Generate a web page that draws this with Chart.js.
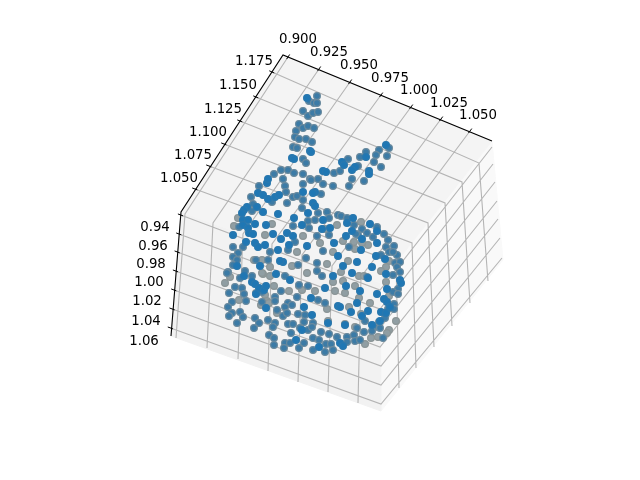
<!DOCTYPE html>
<html><head><meta charset="utf-8">
<style>html,body{margin:0;padding:0;background:#fff}canvas{display:block}</style>
<script src="https://cdn.jsdelivr.net/npm/chart.js@4/dist/chart.umd.min.js"></script>
</head><body><canvas id="c" width="640" height="480"></canvas>
<script>
const xTickLabels=["0.900","0.925","0.950","0.975","1.000","1.025","1.050"];
const yTickLabels=["1.050","1.075","1.100","1.125","1.150","1.175"];
const zTickLabels=["0.94","0.96","0.98","1.00","1.02","1.04","1.06"];
const xLabelAt=[[298,40],[329,53],[359,66],[390,79],[419,91],[449,104],[478,116]];
const yLabelAt=[[179,179],[193,156],[208,133],[223,110],[238,86],[254,62]];
const zLabelAt=[[155,228],[153,247],[151,265],[149,283],[147,302],[146,322],[144,342]];
const paneTop=[[181,212],[283,55],[492,141],[380,283]];
const paneLeft=[[181,212],[380,283],[381,411],[171,336]];
const paneRight=[[380,283],[492,141],[503,260],[381,411]];
const xGridAxis=[[288,57],[319,69],[350,82],[381,95],[411,107],[441,119],[470,131]];
const xGridMid=[[185,214],[213,223],[243,234],[272,244],[302,255],[332,266],[361,277]];
const xGridEnd=[[176,338],[207,348],[238,359],[268,371],[298,382],[328,392],[358,403]];
const yGridAxis=[[195,189],[209,166],[224,144],[240,121],[256,97],[272,72]];
const yGridMid=[[396,263],[412,243],[428,223],[445,203],[462,182],[479,163]];
const yGridEnd=[[399,388],[416,368],[434,347],[452,326],[470,303],[488,281]];
const zGridAxis=[[180.7,215],[179,234],[177.4,252],[175.7,271],[174,290],[172.3,309],[170.6,328]];
const zGridMid=[[380,290],[380,309],[380,328],[380,347],[381,366],[381,385],[381,404]];
const zGridEnd=[[492,147],[493,164],[495,182],[497,201],[498,219],[500,238],[502,258]];
const axisEdges=[[171,336],[181,212],[283,55],[492,141]];
const brightPoints=[[307,98],[310,151],[292,158],[294,159],[267,183],[268,179],[258,193],[263,195],[268,199],[275,197],[279,195],[303,192],[315,192],[313,193],[323,171],[326,172],[386,145],[366,157],[342,162],[344,165],[355,167],[352,170],[369,171],[369,174],[311,152],[313,203],[315,206],[247,207],[244,210],[242,213],[257,207],[263,212],[278,214],[294,218],[243,220],[248,220],[308,213],[323,220],[353,218],[302,225],[255,224],[266,225],[347,223],[322,229],[330,228],[243,225],[248,228],[249,233],[233,235],[253,234],[273,234],[287,233],[293,236],[352,231],[377,231],[281,239],[246,242],[255,243],[258,247],[265,245],[289,245],[278,250],[307,246],[334,243],[346,236],[362,239],[370,224],[377,243],[361,250],[338,256],[376,256],[283,262],[280,261],[357,262],[385,259],[237,266],[260,266],[372,267],[343,266],[386,274],[352,273],[333,276],[276,274],[368,278],[290,280],[244,276],[252,282],[255,284],[259,288],[264,290],[266,286],[256,294],[400,280],[401,283],[346,286],[387,289],[325,288],[360,291],[377,294],[311,298],[384,299],[387,302],[357,303],[338,306],[304,307],[266,308],[390,307],[340,307],[368,311],[351,312],[381,312],[386,313],[362,316],[312,315],[380,321],[372,325],[345,325],[328,323],[302,330],[296,340],[319,347],[340,343],[343,346]];
const midPoints=[[317,96],[309,101],[314,103],[317,103],[303,111],[308,116],[313,113],[318,112],[299,124],[303,128],[308,126],[314,128],[296,131],[295,137],[299,139],[306,139],[312,142],[293,147],[297,148],[303,159],[306,163],[281,170],[288,170],[294,173],[274,174],[303,174],[283,179],[310,179],[318,179],[259,186],[285,186],[323,184],[334,173],[333,186],[340,171],[303,184],[286,192],[293,197],[297,196],[251,197],[253,204],[272,202],[287,203],[303,200],[321,194],[389,148],[379,150],[366,152],[360,157],[376,155],[387,156],[374,162],[348,159],[358,166],[381,167],[352,179],[364,181],[349,186],[311,180],[252,211],[318,213],[327,212],[338,215],[341,216],[347,218],[329,218],[315,220],[308,221],[302,208],[354,225],[377,227],[309,228],[293,226],[239,227],[362,229],[358,235],[367,233],[317,236],[329,235],[384,234],[388,240],[373,237],[356,234],[295,242],[233,247],[243,247],[288,250],[270,252],[323,251],[349,247],[238,253],[233,257],[386,247],[394,246],[389,252],[397,255],[393,252],[381,255],[306,258],[317,263],[268,260],[237,260],[256,260],[233,265],[298,265],[245,271],[228,272],[395,263],[400,262],[397,267],[400,272],[317,271],[393,275],[322,276],[367,277],[252,276],[227,273],[240,278],[285,276],[299,285],[235,287],[242,288],[308,286],[398,289],[393,292],[398,294],[281,291],[229,293],[244,294],[275,297],[297,297],[232,302],[246,301],[262,302],[275,301],[318,300],[325,303],[288,303],[394,304],[394,309],[388,309],[228,307],[285,307],[292,305],[277,310],[240,312],[232,313],[229,316],[243,317],[283,316],[287,313],[298,314],[305,315],[255,318],[268,320],[259,323],[237,323],[275,323],[288,324],[293,324],[273,327],[254,328],[385,318],[365,321],[304,322],[313,323],[300,328],[308,330],[291,333],[357,328],[364,332],[372,331],[378,327],[269,335],[274,338],[274,345],[285,343],[284,348],[290,343],[299,348],[304,343],[313,338],[319,340],[321,332],[312,327],[329,334],[337,337],[326,344],[331,344],[313,350],[325,352],[333,350],[347,337],[347,342],[354,335],[355,341],[360,340],[383,338],[379,322],[380,328],[262,292]];
const grayPoints=[[361,222],[337,225],[325,229],[272,224],[234,226],[238,218],[265,235],[303,236],[320,243],[343,241],[354,242],[368,245],[362,243],[297,252],[333,252],[355,249],[348,261],[262,260],[254,260],[327,264],[292,266],[270,267],[341,272],[389,261],[386,267],[381,271],[307,273],[263,274],[359,276],[364,276],[333,282],[343,281],[386,282],[274,286],[299,286],[355,286],[302,290],[315,291],[335,291],[345,293],[256,293],[289,291],[265,295],[262,273],[270,276],[230,277],[225,283],[389,296],[359,298],[267,301],[239,300],[269,303],[261,305],[370,303],[349,307],[327,309],[277,313],[361,314],[396,321],[328,321],[345,324],[355,327],[389,330],[387,333],[378,337],[371,338],[365,344]];

const pts=a=>a.map(p=>({x:p[0],y:p[1]}));
const closed=a=>pts(a.concat([a[0]]));
const breakPt={x:NaN,y:NaN};
function joinLines(lines){const out=[];lines.forEach(l=>{out.push(...pts(l),breakPt)});return out;}
function threeWay(a,b,c){return a.map((p,i)=>[p,b[i],c[i]]);}
function tickSeg(a,b){const dx=a[0]-b[0],dy=a[1]-b[1],n=Math.hypot(dx,dy);return [[a[0]-dx/n*2.5,a[1]-dy/n*2.5],[a[0]+dx/n*3,a[1]+dy/n*3]];}
const pane=(a,c)=>({data:closed(a),showLine:true,fill:'shape',backgroundColor:c,borderColor:c,borderWidth:1,pointRadius:0,order:30});
const lineSet=(d,c,w,o)=>({data:d,showLine:true,fill:false,borderColor:c,borderWidth:w,pointRadius:0,spanGaps:false,order:o});
const dots=(a,f,e,o)=>({data:pts(a),showLine:false,pointRadius:3.4,pointBorderWidth:1.2,pointBackgroundColor:f,pointBorderColor:e,order:o});
const gridLines=[...threeWay(xGridAxis,xGridMid,xGridEnd),...threeWay(yGridAxis,yGridMid,yGridEnd),...threeWay(zGridAxis,zGridMid,zGridEnd)];
const tickLines=[...xGridAxis.map((p,i)=>tickSeg(p,xGridMid[i])),...yGridAxis.map((p,i)=>tickSeg(p,yGridMid[i])),...zGridAxis.map((p,i)=>tickSeg(p,zGridMid[i]))];
const textPlugin={id:'axisText',afterDatasetsDraw(ch){
  const g=ch.ctx,sx=ch.scales.x,sy=ch.scales.y;
  g.save();g.font='13.33px "DejaVu Sans"';g.fillStyle='#000';g.textAlign='center';g.textBaseline='middle';
  const put=(t,a)=>t.forEach((s,i)=>g.fillText(s,sx.getPixelForValue(a[i][0]),sy.getPixelForValue(a[i][1])));
  put(xTickLabels,xLabelAt);put(yTickLabels,yLabelAt);put(zTickLabels,zLabelAt);g.restore();}};
new Chart(document.getElementById('c'),{type:'scatter',
 data:{datasets:[
  pane(paneTop,'#f4f4f4'),pane(paneLeft,'#f2f2f2'),pane(paneRight,'#f9f9f9'),
  lineSet(joinLines(gridLines),'#b4b4b4',1.1,20),
  lineSet(pts(axisEdges),'#000',1.1,19),
  lineSet(joinLines(tickLines),'#000',1,18),
  dots(grayPoints,'#909ea3','#8b9596',12),
  dots(midPoints,'#3c7ba6','#6a8a9e',11),
  dots(brightPoints,'#1f77b4','#2a78ae',10)
 ]},
 options:{responsive:false,animation:false,events:[],layout:{padding:0,autoPadding:false},
  plugins:{legend:{display:false},tooltip:{enabled:false}},
  scales:{x:{type:'linear',display:false,min:0,max:640},y:{type:'linear',display:false,min:0,max:480,reverse:true}}},
 plugins:[textPlugin]});
</script></body></html>
